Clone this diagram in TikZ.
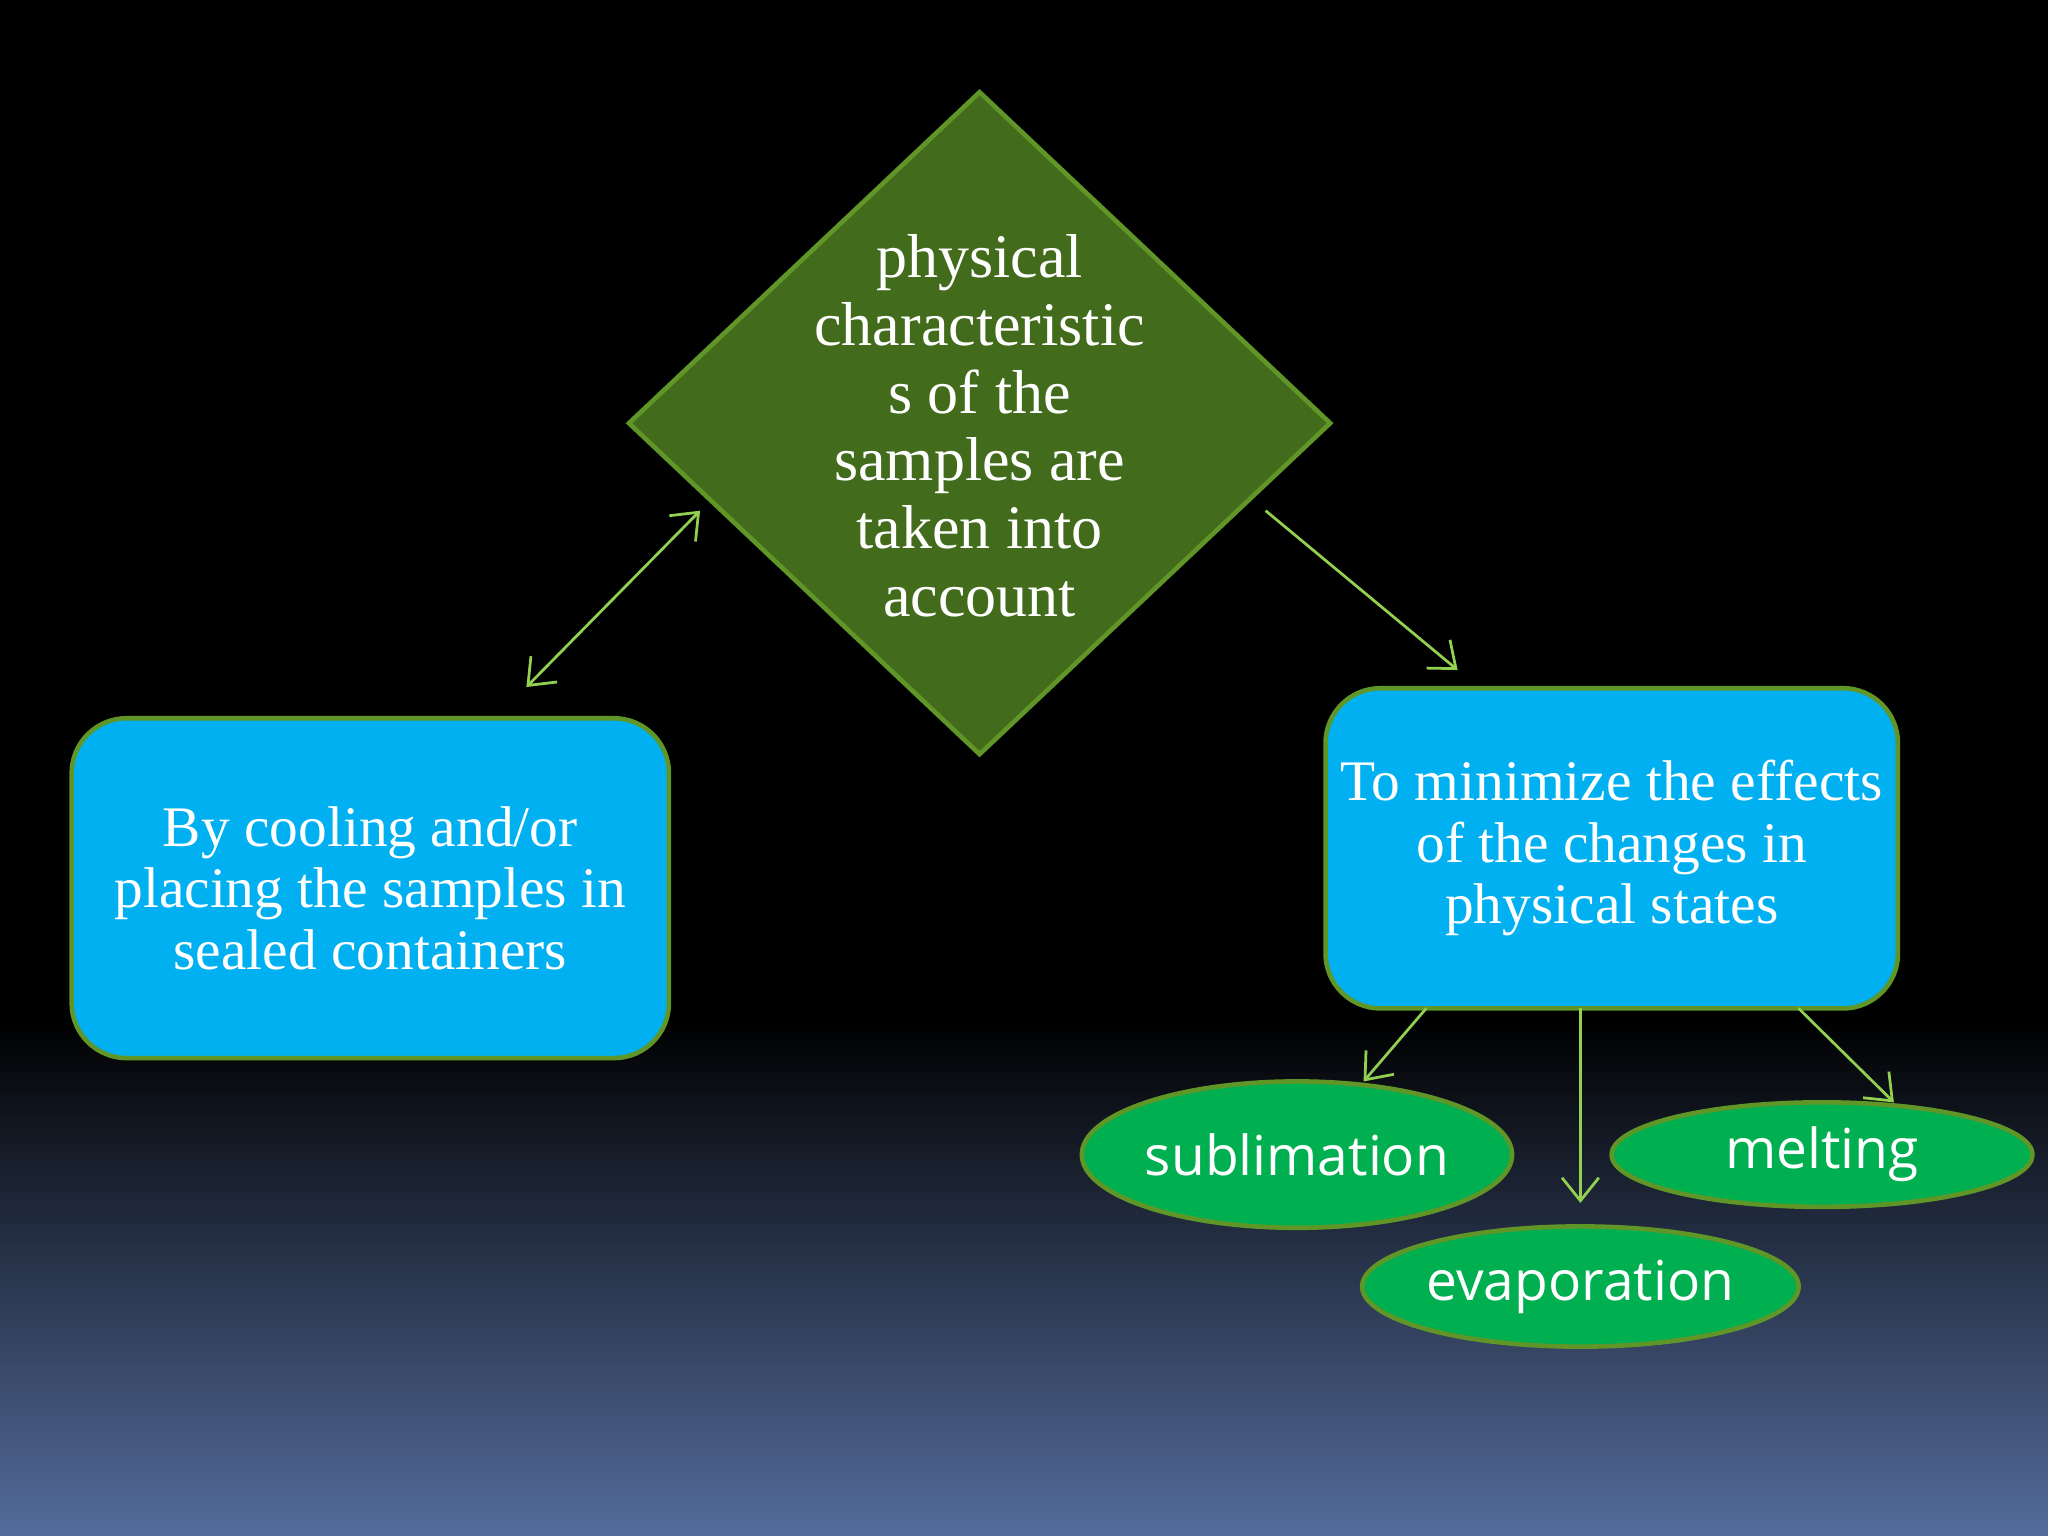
\documentclass[tikz,border=0pt]{standalone}
\usepackage{fontspec}
\setmainfont{Liberation Serif}
\newfontfamily\ellfont{Open Sans}
\usetikzlibrary{shapes.geometric,arrows.meta}
\definecolor{dgreen}{RGB}{66,107,27}
\definecolor{dborder}{RGB}{96,150,40}
\definecolor{cyanbox}{RGB}{0,176,240}
\definecolor{ellgreen}{RGB}{0,176,80}
\definecolor{arrowgreen}{RGB}{146,208,80}
\definecolor{bottomblue}{RGB}{84,108,156}
\tikzset{
  txt/.style={text=white,align=center,font=\fontsize{13.5}{14.6}\selectfont},
  rbox/.style={draw=dborder,line width=1pt,fill=cyanbox,rounded corners=0.42cm,txt,font=\fontsize{12.5}{13.4}\selectfont},
  ell/.style={ellipse,draw=dborder,line width=1pt,fill=ellgreen,text=white,font=\ellfont\fontsize{12}{14}\selectfont,inner sep=0pt},
  conn/.style={draw=arrowgreen,line width=0.6pt,-{Straight Barb[length=5pt,width=8pt]}}
}
\begin{document}
\begin{tikzpicture}[x=0.01cm,y=-0.01cm]
\fill[black] (0,0) rectangle (1568,1176);
\shade[top color=black,bottom color=bottomblue] (0,780) rectangle (1568,1176);
\useasboundingbox (0,0) rectangle (1568,1176);
\node[diamond,draw=dborder,line width=1pt,fill=dgreen,minimum width=5.38cm,minimum height=5.08cm,inner sep=0pt] (dia) at (750,324) {};
\node[txt,font=\fontsize{13.5}{14.8}\selectfont] (diatext) at (750,326) {physical\\characteristic\\s of the\\samples are\\taken into\\account};
\node[rbox,minimum width=4.57cm,minimum height=2.6cm] (left) at (283.5,680) {By cooling and/or\\placing the samples in\\sealed containers};
\node[rbox,minimum width=4.32cm,minimum height=2.45cm] (right) at (1234,649.5) {To minimize the effects\\of the changes in\\physical states};
\node[ell,minimum width=3.22cm,minimum height=1.12cm] (sub) at (993,884) {sublimation};
\node[ell,minimum width=3.22cm,minimum height=0.8cm] (melt) at (1395,884) {melting};
\node[ell,minimum width=3.34cm,minimum height=0.92cm] (evap) at (1210,985) {evaporation};
\coordinate (a1) at (403,526); \coordinate (a2) at (536,391);
\coordinate (b1) at (969,391); \coordinate (b2) at (1116,513);
\coordinate (c1) at (1092,772); \coordinate (c2) at (1044,828);
\coordinate (d1) at (1210,772); \coordinate (d2) at (1210,921);
\coordinate (e1) at (1377,772); \coordinate (e2) at (1450,844);
\draw[conn,{Straight Barb[length=5pt,width=8pt]}-{Straight Barb[length=5pt,width=8pt]}] (a1) -- (a2);
\draw[conn] (b1) -- (b2);
\draw[conn] (c1) -- (c2);
\draw[conn] (d1) -- (d2);
\draw[conn] (e1) -- (e2);
\end{tikzpicture}
\end{document}
